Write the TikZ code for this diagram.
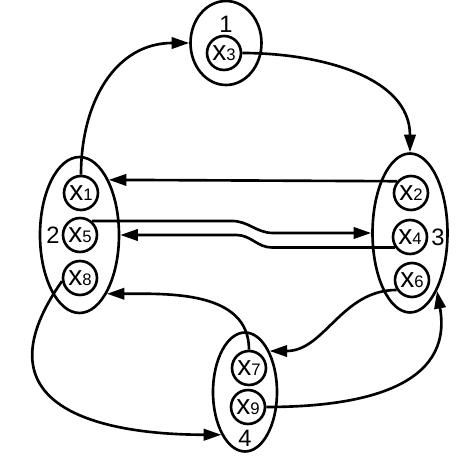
\documentclass[tikz,border=0pt]{standalone}
\usepackage{fontspec}
\setmainfont{Liberation Sans}
\usetikzlibrary{shapes.geometric,arrows.meta,calc}
\tikzset{
  group/.style = {draw, ellipse, inner sep=0pt},
  var/.style = {draw, circle, inner sep=0pt, minimum size=0.68cm,
    font=\fontsize{16}{16}\selectfont},
  num/.style = {font=\fontsize{13.5}{14}\selectfont},
  link/.style = {-{Triangle[length=10pt,width=6.5pt]}}
}
\newcommand{\xvar}[1]{x{\fontsize{9.5}{10}\selectfont #1}}

\begin{document}
\begin{tikzpicture}[x=0.02cm,y=0.02cm,line width=1.5pt]
  \useasboundingbox (0,0) rectangle (474,474);
  % groups
  \node[group, minimum width=1.42cm, minimum height=1.68cm] (g1) at (226,431) {};
  \node[group, minimum width=1.58cm, minimum height=3.12cm] (g2) at (79.5,239) {};
  \node[group, minimum width=1.5cm, minimum height=3.18cm] (g3) at (410,241) {};
  \node[group, minimum width=1.28cm, minimum height=2.38cm] (g4) at (245,82) {};
  \node[num] (n1) at (226,450) {1};
  \node[num] (n2) at (53,239) {2};
  \node[num] (n3) at (438,237) {3};
  \node[num] (n4) at (245,36) {4};
  % variables
  \node[var] (x3) at (224,421) {\xvar{3}};
  \node[var] (x1) at (81,281) {\xvar{1}};
  \node[var] (x5) at (80,239) {\xvar{5}};
  \node[var] (x8) at (80,196) {\xvar{8}};
  \node[var] (x2) at (411,281) {\xvar{2}};
  \node[var] (x4) at (410,237) {\xvar{4}};
  \node[var] (x6) at (412,194) {\xvar{6}};
  \node[var] (x7) at (249,106) {\xvar{7}};
  \node[var] (x9) at (248,67) {\xvar{9}};
  % links
  \draw[link] (x1.north) to[out=90,in=180,looseness=1.1] (g1.west);
  \draw[link] (x3.east) to[out=0,in=90] (g3.north);
  \draw[link] (x2.140) -- (g2.62);
  \draw[link] (x5.50) -- +(140,0) to[out=0,in=180] ($(g3.west)+(-98,0)$) -- (g3.west);
  \draw[link] (x4.215) -- +(-123,0) to[out=180,in=0] ($(g2.east)+(116,0)$) -- (g2.east);
  \draw[link] (x6.213) to[out=180,in=0] (g4.59);
  \draw[link] (x7.north) to[out=90,in=0] (g2.295);
  \draw[link] (x8.190) .. controls +(235:160) and +(180:110) .. (g4.241);
  \draw[link] (x9.east) to[out=0,in=280,looseness=1.2] (g3.295);
\end{tikzpicture}
\end{document}
